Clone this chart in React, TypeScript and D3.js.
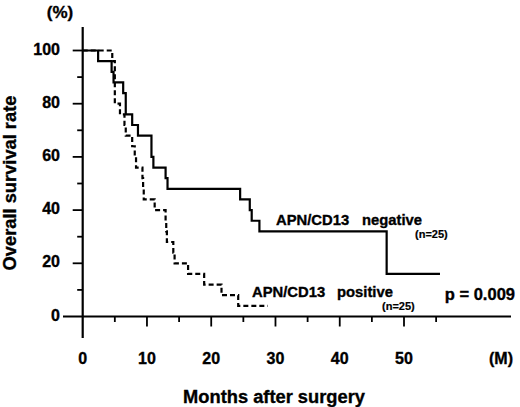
import { useEffect, useRef } from 'react';

import * as d3 from 'd3';

const WIDTH = 520;
const HEIGHT = 407;

// APN/CD13 negative (solid), Kaplan-Meier steps
const negTimes = [0, 2.4, 4.5, 4.8, 6.3, 6.7, 7.7, 8.6, 10.7, 11.0, 12.9, 13.2, 24.5, 26.0, 26.3, 27.5, 47.3, 55.6];
const negSurvival = [100, 96, 92, 88, 84, 76, 72, 68, 60, 56, 52, 48, 44, 40, 36, 32, 16, 16];

// APN/CD13 positive (dashed)
const posTimes = [0, 4.6, 5.0, 5.8, 6.5, 6.7, 7.7, 8.1, 8.3, 9.3, 9.4, 9.5, 11.2, 12.9, 13.0, 13.1, 14.1, 14.3, 16.4, 18.9, 21.6, 24.2, 28.8];
const posSurvival = [100, 96, 80, 76, 72, 68, 64, 60, 56, 52, 48, 44, 40, 36, 32, 28, 24, 20, 16, 12, 8, 4, 4];

const xTicks = [0, 10, 20, 30, 40, 50];
const xMinorTicks = [5, 15, 25, 35, 45, 55];
const yTicks = [0, 20, 40, 60, 80, 100];
const yMinorTicks = [10, 30, 50, 70, 90];

const FONT = '"Liberation Sans", Arial, Helvetica, sans-serif';

function App() {
  const svgRef = useRef(null);

  useEffect(() => {
    const svg = d3.select(svgRef.current);
    svg.selectAll('*').remove();

    const x = d3.scaleLinear().domain([0, 50]).range([82.7, 404]);
    const y = d3.scaleLinear().domain([0, 100]).range([316.5, 50.5]);

    const g = svg.append('g')
      .attr('stroke', '#000')
      .attr('fill', 'none');

    // axis lines
    g.append('line')
      .attr('x1', x(0)).attr('x2', x(0))
      .attr('y1', 27).attr('y2', 338)
      .attr('stroke-width', 2.2);
    g.append('line')
      .attr('x1', 63).attr('x2', 511)
      .attr('y1', y(0)).attr('y2', y(0))
      .attr('stroke-width', 2.2);

    // y ticks
    g.selectAll('.ytick')
      .data(yTicks.filter((d) => d > 0))
      .join('line')
      .attr('x1', x(0) - 10).attr('x2', x(0))
      .attr('y1', (d) => y(d)).attr('y2', (d) => y(d))
      .attr('stroke-width', 1.8);
    g.selectAll('.yminor')
      .data(yMinorTicks)
      .join('line')
      .attr('x1', x(0) - 5.5).attr('x2', x(0))
      .attr('y1', (d) => y(d)).attr('y2', (d) => y(d))
      .attr('stroke-width', 1.8);

    // x ticks
    g.selectAll('.xtick')
      .data(xTicks.filter((d) => d > 0))
      .join('line')
      .attr('x1', (d) => x(d)).attr('x2', (d) => x(d))
      .attr('y1', y(0)).attr('y2', y(0) + 10)
      .attr('stroke-width', 1.8);
    g.selectAll('.xminor')
      .data(xMinorTicks)
      .join('line')
      .attr('x1', (d) => x(d)).attr('x2', (d) => x(d))
      .attr('y1', y(0)).attr('y2', y(0) + 5.5)
      .attr('stroke-width', 1.8);

    const line = d3.line()
      .x((d) => x(d[0]))
      .y((d) => y(d[1]))
      .curve(d3.curveStepAfter);

    const negData = negTimes.map((t, i) => [t, negSurvival[i]]);
    const posData = posTimes.map((t, i) => [t, posSurvival[i]]);

    svg.append('path')
      .datum(negData)
      .attr('d', line)
      .attr('fill', 'none')
      .attr('stroke', '#000')
      .attr('stroke-width', 2.2);

    svg.append('path')
      .datum(posData)
      .attr('d', line)
      .attr('fill', 'none')
      .attr('stroke', '#000')
      .attr('stroke-width', 2.2)
      .attr('stroke-dasharray', '5,3');

    // slight stroke makes the bold text as heavy as the reference
    const t = svg.append('g')
      .attr('font-family', FONT)
      .attr('font-weight', 'bold')
      .attr('fill', '#000')
      .attr('stroke', '#000')
      .attr('stroke-width', 0.35);

    // tick labels
    t.selectAll('.ylab')
      .data(yTicks)
      .join('text')
      .attr('x', 60)
      .attr('y', (d) => y(d) + 4)
      .attr('text-anchor', 'end')
      .attr('font-size', 16)
      .text((d) => d);

    t.selectAll('.xlab')
      .data(xTicks)
      .join('text')
      .attr('x', (d) => x(d))
      .attr('y', 364)
      .attr('text-anchor', 'middle')
      .attr('font-size', 16)
      .text((d) => d);

    t.append('text')
      .attr('x', 513).attr('y', 364)
      .attr('text-anchor', 'end')
      .attr('font-size', 16)
      .text('(M)');

    t.append('text')
      .attr('x', 60).attr('y', 18)
      .attr('text-anchor', 'middle')
      .attr('font-size', 17)
      .text('(%)');

    // axis titles
    t.append('text')
      .attr('x', 274).attr('y', 403)
      .attr('text-anchor', 'middle')
      .attr('font-size', 18.3)
      .text('Months after surgery');

    t.append('text')
      .attr('transform', 'translate(16,183) rotate(-90)')
      .attr('text-anchor', 'middle')
      .attr('font-size', 18.3)
      .text('Overall survival rate');

    // curve labels
    t.append('text').attr('x', 276).attr('y', 225).attr('font-size', 14.8).text('APN/CD13');
    t.append('text').attr('x', 362).attr('y', 225).attr('font-size', 14.8).text('negative');
    t.append('text').attr('x', 415).attr('y', 238).attr('font-size', 11).attr('stroke-width', 0.2).text('(n=25)');

    t.append('text').attr('x', 252).attr('y', 297).attr('font-size', 14.8).text('APN/CD13');
    t.append('text').attr('x', 337).attr('y', 297).attr('font-size', 14.8).text('positive');
    t.append('text').attr('x', 382).attr('y', 310).attr('font-size', 11).attr('stroke-width', 0.2).text('(n=25)');

    t.append('text')
      .attr('x', 515).attr('y', 300)
      .attr('text-anchor', 'end')
      .attr('font-size', 16.5)
      .text('p = 0.009');
  }, []);

  return (
    <svg
      ref={svgRef}
      width={WIDTH}
      height={HEIGHT}
      viewBox={`0 0 ${WIDTH} ${HEIGHT}`}
      style={{ position: 'absolute', left: 0, top: 0, background: '#fff' }}
    />
  );
}

export default App;
